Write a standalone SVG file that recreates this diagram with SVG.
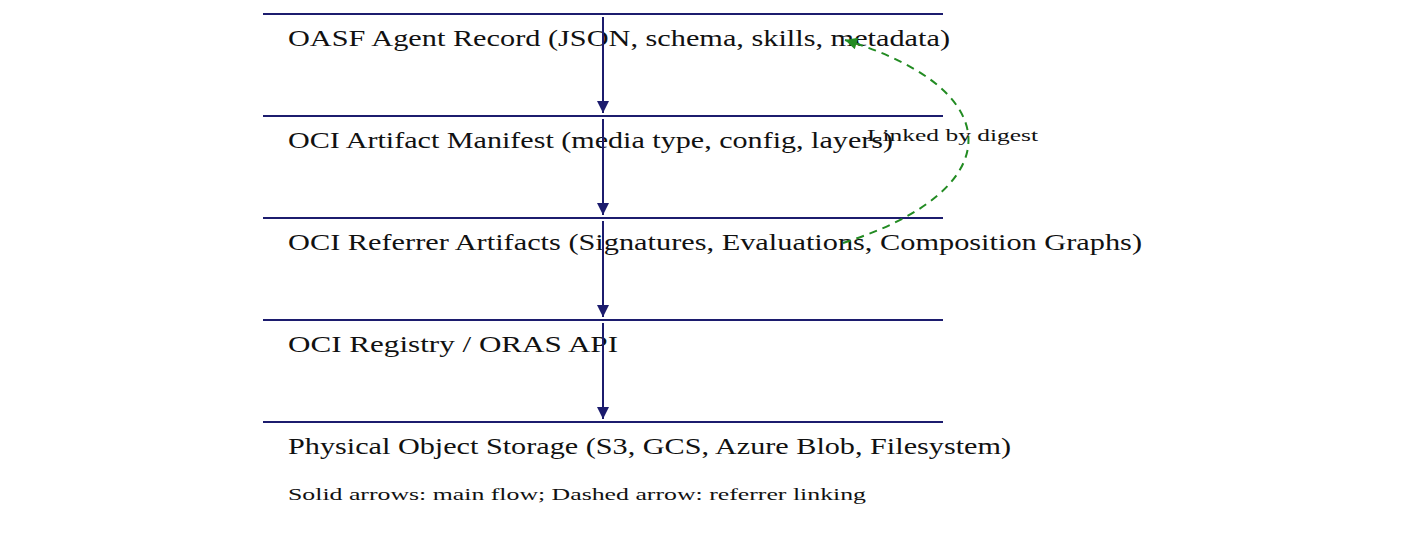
<svg xmlns="http://www.w3.org/2000/svg" width="1416" height="541" viewBox="0 0 1416 541">
<style>
.t{font-family:"Liberation Serif","DejaVu Serif",serif;font-size:23px;fill:#111}
.s{font-family:"Liberation Serif","DejaVu Serif",serif;font-size:17px;fill:#111}
.l{stroke:#1c1c6e;stroke-width:2}
</style>
<defs>
<marker id="a" viewBox="0 0 10 10" refX="10" refY="5" markerWidth="12" markerHeight="16" markerUnits="userSpaceOnUse" orient="auto"><path d="M0,0L10,5L0,10z" fill="#1c1c6e"/></marker>
<marker id="g" viewBox="0 0 10 10" refX="10" refY="5" markerWidth="14" markerHeight="12" markerUnits="userSpaceOnUse" orient="auto"><path d="M0,0L10,5L0,10z" fill="#228b22"/></marker>
</defs>
<rect width="1416" height="541" fill="#fff"/>
<g id="n1"><line class="l" x1="263" y1="14" x2="943" y2="14"/><text class="t" x="288" y="46" textLength="662" lengthAdjust="spacingAndGlyphs">OASF Agent Record (JSON, schema, skills, metadata)</text></g>
<g id="n2"><line class="l" x1="263" y1="116" x2="943" y2="116"/><text class="t" x="288" y="148" textLength="605" lengthAdjust="spacingAndGlyphs">OCI Artifact Manifest (media type, config, layers)</text></g>
<g id="n3"><line class="l" x1="263" y1="218" x2="943" y2="218"/><text class="t" x="288" y="250" textLength="854" lengthAdjust="spacingAndGlyphs">OCI Referrer Artifacts (Signatures, Evaluations, Composition Graphs)</text></g>
<g id="n4"><line class="l" x1="263" y1="320" x2="943" y2="320"/><text class="t" x="288" y="352" textLength="330" lengthAdjust="spacingAndGlyphs">OCI Registry / ORAS API</text></g>
<g id="n5"><line class="l" x1="263" y1="422" x2="943" y2="422"/><text class="t" x="288" y="454" textLength="723" lengthAdjust="spacingAndGlyphs">Physical Object Storage (S3, GCS, Azure Blob, Filesystem)</text></g>
<g id="connectors" fill="none">
<line class="l" x1="603" y1="17" x2="603" y2="113" marker-end="url(#a)"/>
<line class="l" x1="603" y1="119" x2="603" y2="215" marker-end="url(#a)"/>
<line class="l" x1="603" y1="221" x2="603" y2="317" marker-end="url(#a)"/>
<line class="l" x1="603" y1="323" x2="603" y2="419" marker-end="url(#a)"/>
<path d="M843,243 C1010,190 1010,90 845,40" stroke="#228b22" stroke-width="2" stroke-dasharray="8,6" marker-end="url(#g)"/>
<text class="s" x="867" y="141" textLength="171" lengthAdjust="spacingAndGlyphs">Linked by digest</text>
</g>
<text class="s" x="288" y="500" textLength="578" lengthAdjust="spacingAndGlyphs">Solid arrows: main flow; Dashed arrow: referrer linking</text>
</svg>
